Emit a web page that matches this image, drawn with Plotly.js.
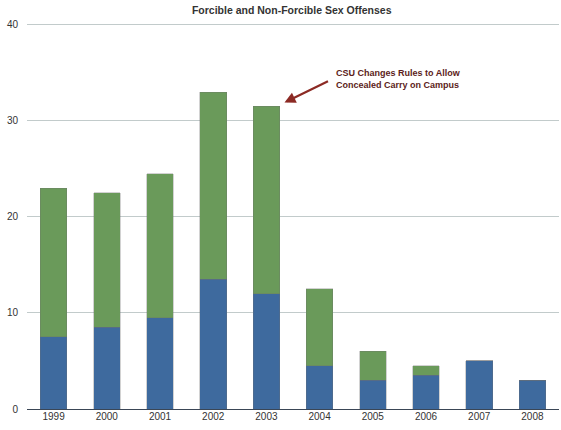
<!DOCTYPE html>
<html>
<head>
<meta charset="utf-8">
<script src="https://cdn.plot.ly/plotly-3.0.1.min.js"></script>
<style>
  html, body { margin: 0; padding: 0; background: #fff; }
  #chart { width: 561px; height: 430px; }
</style>
</head>
<body>
<div id="chart"></div>
<script>
var years = ['1999', '2000', '2001', '2002', '2003', '2004', '2005', '2006', '2007', '2008'];
var forcible = [7.5, 8.5, 9.5, 13.5, 12, 4.5, 3, 3.5, 5, 3];
var nonForcible = [15.5, 14, 15, 19.5, 19.5, 8, 3, 1, 0, 0];
var yTicks = [0, 10, 20, 30, 40];

var noteText = 'CSU Changes Rules to Allow<br>Concealed Carry on Campus';

var blue = {
    x: years,
    y: forcible,
    name: 'Forcible',
    type: 'bar',
    marker: {
        color: '#3e6a9e',
        line: { color: 'rgba(110,110,110,0.45)', width: 0.7 }
    },
    hoverinfo: 'x+y'
};

var green = {
    x: years,
    y: nonForcible,
    name: 'Non-Forcible',
    type: 'bar',
    marker: {
        color: '#6a9a5a',
        line: { color: 'rgba(110,110,110,0.45)', width: 0.7 }
    },
    hoverinfo: 'x+y'
};

var layout = {
    width: 561,
    height: 430,
    barmode: 'stack',
    bargap: 0.5,
    showlegend: false,
    plot_bgcolor: '#fff',
    paper_bgcolor: '#fff',
    font: { family: '"Liberation Sans", Arial, sans-serif', size: 10, color: '#333' },
    title: {
        text: 'Forcible and Non-Forcible Sex Offenses',
        font: { size: 10.5, weight: 'bold', color: '#333' },
        x: 0.52,
        xanchor: 'center',
        yref: 'container',
        y: 0.977,
        yanchor: 'middle'
    },
    xaxis: {
        type: 'category',
        range: [-0.5, 9.5],
        showgrid: false,
        ticks: '',
        tickfont: { size: 10, color: '#333' },
        showline: false
    },
    yaxis: {
        range: [0, 40.6],
        tickvals: yTicks,
        gridcolor: '#c2cbcb',
        gridwidth: 1,
        zeroline: true,
        zerolinecolor: '#3a4656',
        zerolinewidth: 1.2,
        ticks: '',
        ticklabelstandoff: 8,
        tickfont: { size: 10, color: '#333' }
    },
    margin: { l: 27, r: 2, t: 19.2, b: 21 },
    annotations: [
        {
            xref: 'x',
            yref: 'y',
            x: 4.34,
            y: 31.9,
            text: ' ',
            font: { size: 1 },
            showarrow: true,
            arrowhead: 2,
            arrowsize: 1,
            arrowwidth: 2.2,
            arrowcolor: '#8c2a24',
            ax: 45,
            ay: -22
        },
        {
            xref: 'x',
            yref: 'y',
            x: 4.32 + (333 - 282) / 53.2,
            y: (409 - 79) / 9.6,
            xanchor: 'left',
            yanchor: 'middle',
            align: 'left',
            text: noteText,
            showarrow: false,
            font: { size: 9, weight: 'bold', color: '#5c1c1a' }
        }
    ]
};

Plotly.newPlot('chart', [blue, green], layout, { displayModeBar: false });
</script>
</body>
</html>
